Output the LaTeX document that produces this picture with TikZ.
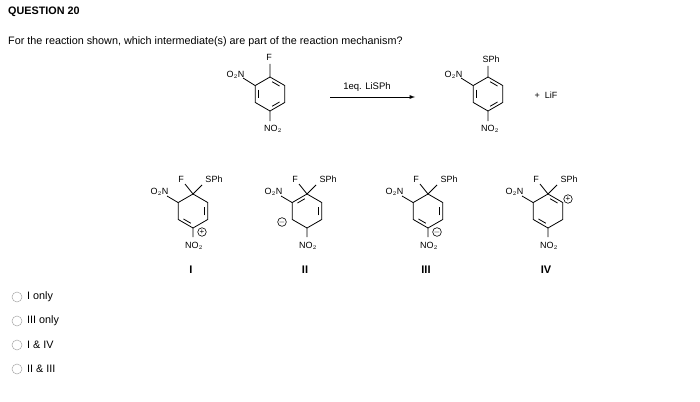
\documentclass[tikz,border=0pt]{standalone}
\usepackage{fontspec}
\setmainfont{Liberation Sans}
\usetikzlibrary{calc}
\newcommand{\hexring}[2]{% center, list of double-bond start angles
  \begin{scope}[shift={#1}]
    \draw[bond] (90:17)--(30:17)--(-30:17)--(-90:17)--(-150:17)--(150:17)--cycle;
    \foreach \a in {#2}{\draw[bond,shorten >=2.5pt,shorten <=2.5pt] (\a:13.5)--(\a-60:13.5);}
  \end{scope}}
\begin{document}
\begin{tikzpicture}[x=1pt,y=-1pt,bond/.style={line width=0.8pt},
  lab/.style={font=\fontsize{9}{10}\selectfont,inner sep=0.5pt},
  roman/.style={font=\bfseries\fontsize{11}{12}\selectfont},
  chg/.style={circle,draw,line width=0.6pt,inner sep=0pt,minimum size=8.5pt,font=\fontsize{8}{8}\selectfont},
  txt/.style={font=\fontsize{10.8}{12}\selectfont,anchor=west,inner sep=0pt}]
\useasboundingbox (0,0) rectangle (700,401);
\node[txt,font=\bfseries\fontsize{10.8}{12}\selectfont] (q) at (8,12) {QUESTION 20};
\node[txt] (prompt) at (8,42) {For the reaction shown, which intermediate(s) are part of the reaction mechanism?};
% reactant
\hexring{(270,94)}{90,-30,-150}
\draw[bond] (270,77)--(270,64) (255,85.5)--(243,78) (270,111)--(270,121);
\node[lab] (f0) at (269,57) {F};
\node[lab,anchor=east] (o0) at (245,75) {O$_2$N};
\node[lab] (n0) at (273,129) {NO$_2$};
% arrow
\coordinate (a1) at (330,97); \coordinate (a2) at (415,97);
\draw[line width=0.9pt,-latex] (a1)--(a2);
\node[lab,font=\fontsize{9.5}{10}\selectfont] (reag) at (367,87) {1eq. LiSPh};
% product
\hexring{(488,94)}{90,-30,-150}
\draw[bond] (488,77)--(488,66) (473,85.5)--(461,78) (488,111)--(488,121);
\node[lab] (s0) at (491,59) {SPh};
\node[lab,anchor=east] (o1) at (463,75) {O$_2$N};
\node[lab] (n1) at (490,129) {NO$_2$};
\node[lab] (lif) at (546,95) {+~~LiF};
% intermediates
\foreach \cx/\da/\dbb/\rn in {193/150/30/I,307/30/-90/II,428/150/30/III,548/150/-30/IV}{
  \hexring{(\cx,211)}{\da,\dbb}
  \draw[bond] (\cx,194)--(\cx-8,184) (\cx,194)--(\cx+9,185) (\cx-15,202.5)--(\cx-26,196) (\cx,228)--(\cx,237);
  \node[lab] (f\rn) at (\cx-12,179) {F};
  \node[lab] (s\rn) at (\cx+21,179) {SPh};
  \node[lab,anchor=east] (o\rn) at (\cx-24,192) {O$_2$N};
  \node[lab] (n\rn) at (\cx+1,246) {NO$_2$};
  \node[roman] (r\rn) at (\cx-2,270) {\rn};
}
\node[chg] (c1) at (202,232) {+};
\node[chg] (c2) at (282,222) {$-$};
\node[chg] (c3) at (437,232) {$-$};
\node[chg] (c4) at (568,199) {+};
% options
\foreach \y/\t/\k in {297/I only/a,321/III only/b,345/I \& IV/c,369/II \& III/d}{
  \node[circle,draw=gray!70,line width=0.5pt,minimum size=10pt,inner sep=0pt] (rb\k) at (17,\y) {};
  \node[txt] (t\k) at (27,\y) {\t};
}
\end{tikzpicture}
\end{document}
